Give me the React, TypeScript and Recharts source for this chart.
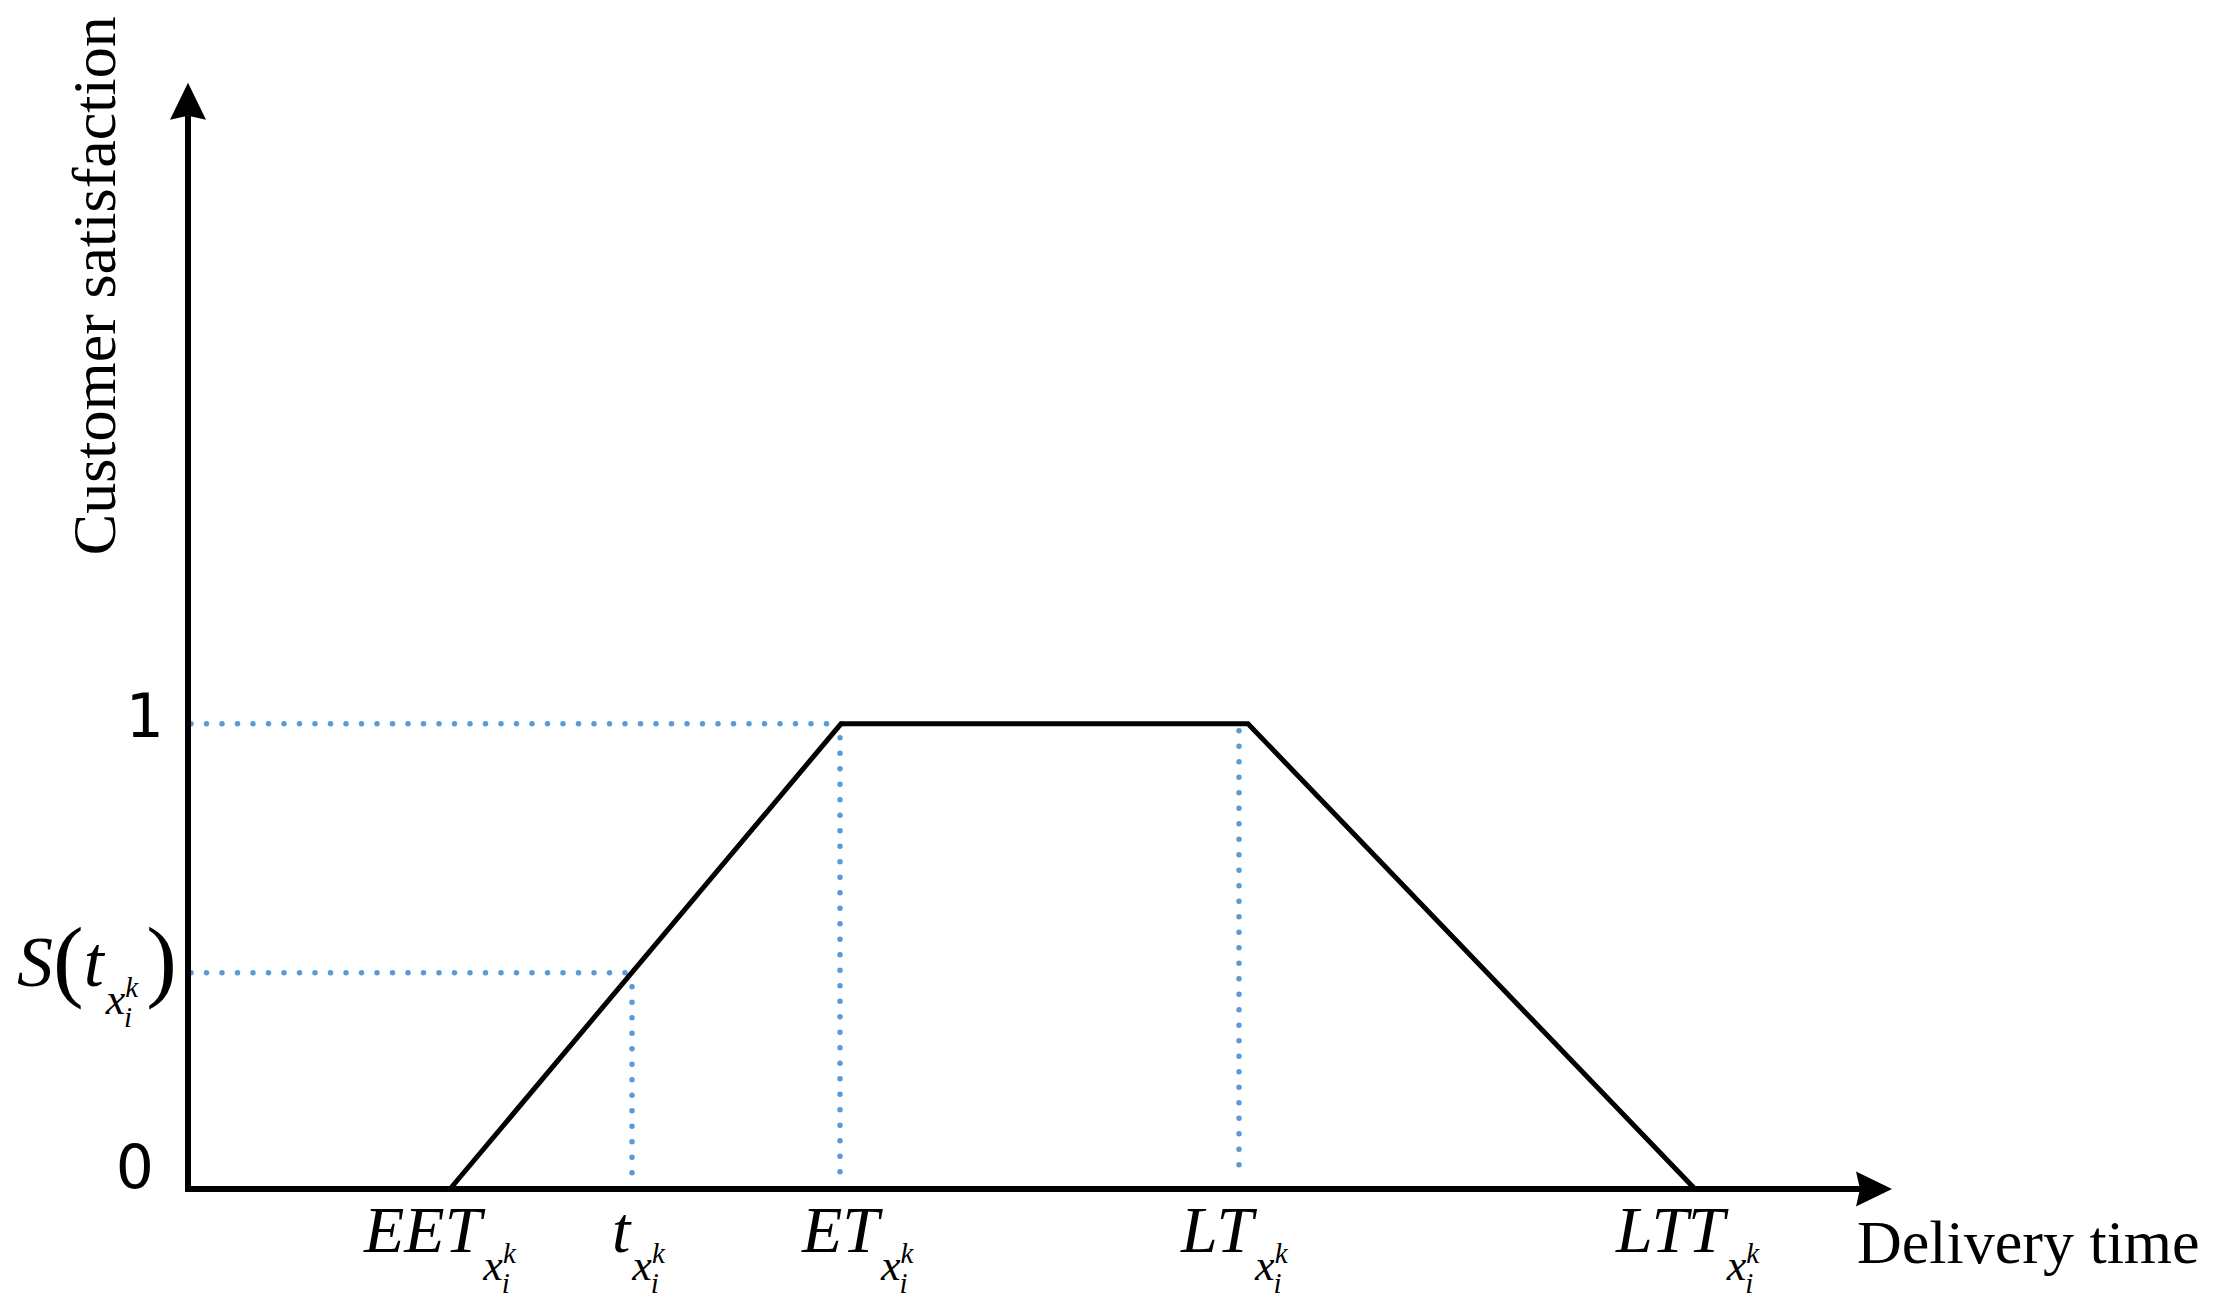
import React from 'react';
import { ComposedChart, Line, XAxis, YAxis, ReferenceLine, ReferenceDot } from 'recharts';

// trapezoid corners: EET, ET, LT, LTT
const cornerTimes = [2.62, 6.53, 10.6, 15.07];
const cornerLevels = [0, 1, 1, 0];

const tickTimes = [2.62, 4.44, 6.53, 10.6, 15.07];
const tickNames = ['EET', 't', 'ET', 'LT', 'LTT'];

const levelTicks = [0, 0.465, 1];
const levelNames = ['0', 'S', '1'];

const sampleTime = 4.44;
const sampleLevel = 0.465;
const etTime = 6.52;
const ltGuideTime = 10.51;
const topGuideEnd = 6.69;

const xEnd = 17.04;
const yEnd = 2.378;
const xArrowBase = 16.7;
const yArrowBase = 2.3;

const curve = cornerTimes.map((t, i) => ({ time: t, s: cornerLevels[i] }));

const serif = '"Liberation Serif", "Times New Roman", serif';
const guide = {
  stroke: '#5B9BD5',
  strokeWidth: 5.5,
  strokeDasharray: '0 15.5',
  strokeLinecap: 'round' as const,
};

// x with superscript k and subscript i
const SubXik = () => (
  <>
    <tspan fontStyle="italic" fontSize={44} dx={2} dy={28}>x</tspan>
    <tspan fontStyle="italic" fontSize={29} dy={-17}>k</tspan>
    <tspan fontStyle="italic" fontSize={29} dx={-14} dy={30}>i</tspan>
  </>
);

const TimeTick = ({ x, y, payload }: any) => {
  const name = tickNames[tickTimes.indexOf(payload.value)];
  const shift: Record<string, number> = { EET: -86, t: -20, ET: -39, LT: -67, LTT: -79 };
  return (
    <text x={x + (shift[name] ?? 0)} y={y + 63} fontFamily={serif} fontStyle="italic" fontSize={66} fill="#000">
      <tspan>{name}</tspan>
      <SubXik />
    </text>
  );
};

const LevelTick = ({ x, y, payload }: any) => {
  const name = levelNames[levelTicks.indexOf(payload.value)];
  if (name === '1') {
    return <text x={x - 24} y={y + 13} textAnchor="end" fontFamily='"DejaVu Sans", sans-serif' fontSize={60} fill="#000">1</text>;
  }
  if (name === '0') {
    return <text x={x - 34} y={y - 1} textAnchor="end" fontFamily='"DejaVu Sans", sans-serif' fontSize={60} fill="#000">0</text>;
  }
  return (
    <text x={x - 171} y={y + 13} fontFamily={serif} fontSize={72} fill="#000">
      <tspan fontStyle="italic">S</tspan>
      <tspan fontSize={92} dy={4}>(</tspan>
      <tspan fontStyle="italic" dy={-4}>t</tspan>
      <SubXik />
      <tspan fontSize={92} dx={14} dy={-37}>)</tspan>
    </text>
  );
};

const RightArrow = ({ cx, cy }: any) => (
  <polygon points={`${cx},${cy} ${cx - 36},${cy - 17.5} ${cx - 32},${cy} ${cx - 36},${cy + 17.5}`} fill="#000" />
);

const UpArrow = ({ cx, cy }: any) => (
  <polygon points={`${cx},${cy} ${cx + 18},${cy + 37} ${cx},${cy + 33} ${cx - 18},${cy + 37}`} fill="#000" />
);

const YTitle = ({ viewBox }: any) => {
  const cx = viewBox.x + 107;
  const cy = viewBox.y + 203;
  return (
    <text x={cx} y={cy} textAnchor="middle" transform={`rotate(-90, ${cx}, ${cy})`} fontFamily={serif} fontSize={62} fill="#000">
      Customer satisfaction
    </text>
  );
};

const XTitle = ({ viewBox }: any) => (
  <text x={viewBox.x + 1669} y={viewBox.y + 74} fontFamily={serif} fontSize={62} fill="#000">
    Delivery time
  </text>
);

export default function App() {
  return (
    <div style={{ width: 2215, height: 1299, background: '#fff' }}>
      <ComposedChart width={2215} height={1299} data={curve} margin={{ top: 74.7, right: 331, bottom: 0, left: 0 }}>
        <XAxis
          type="number"
          dataKey="time"
          domain={[0, xEnd]}
          ticks={tickTimes}
          interval={0}
          axisLine={false}
          tickLine={false}
          tickSize={0}
          tickMargin={0}
          height={118}
          tick={<TimeTick />}
          label={(p: any) => <XTitle {...p} />}
        />
        <YAxis
          type="number"
          domain={[0, yEnd]}
          ticks={levelTicks}
          interval={0}
          axisLine={false}
          tickLine={false}
          tickSize={0}
          tickMargin={0}
          width={180}
          tick={<LevelTick />}
          label={(p: any) => <YTitle {...p} />}
        />

        {/* dotted guides */}
        <ReferenceLine segment={[{ x: 0.03, y: 1 }, { x: topGuideEnd, y: 1 }]} {...guide} />
        <ReferenceLine segment={[{ x: 0.03, y: sampleLevel }, { x: sampleTime, y: sampleLevel }]} {...guide} />
        <ReferenceLine segment={[{ x: sampleTime, y: sampleLevel - 0.03 }, { x: sampleTime, y: 0.02 }]} {...guide} />
        <ReferenceLine segment={[{ x: etTime, y: 0.97 }, { x: etTime, y: 0.02 }]} {...guide} />
        <ReferenceLine segment={[{ x: ltGuideTime, y: 0.985 }, { x: ltGuideTime, y: 0.02 }]} {...guide} />

        {/* axes with arrows */}
        <ReferenceLine segment={[{ x: 0, y: 0 }, { x: xArrowBase, y: 0 }]} stroke="#000" strokeWidth={6} strokeLinecap="square" />
        <ReferenceLine segment={[{ x: 0, y: 0 }, { x: 0, y: yArrowBase }]} stroke="#000" strokeWidth={6} strokeLinecap="square" />
        <ReferenceDot x={xEnd} y={0} r={1} shape={(p: any) => <RightArrow {...p} />} />
        <ReferenceDot x={0} y={yEnd} r={1} shape={(p: any) => <UpArrow {...p} />} />

        <Line
          type="linear"
          dataKey="s"
          stroke="#000"
          strokeWidth={5}
          dot={false}
          activeDot={false}
          isAnimationActive={false}
        />
      </ComposedChart>
    </div>
  );
}
